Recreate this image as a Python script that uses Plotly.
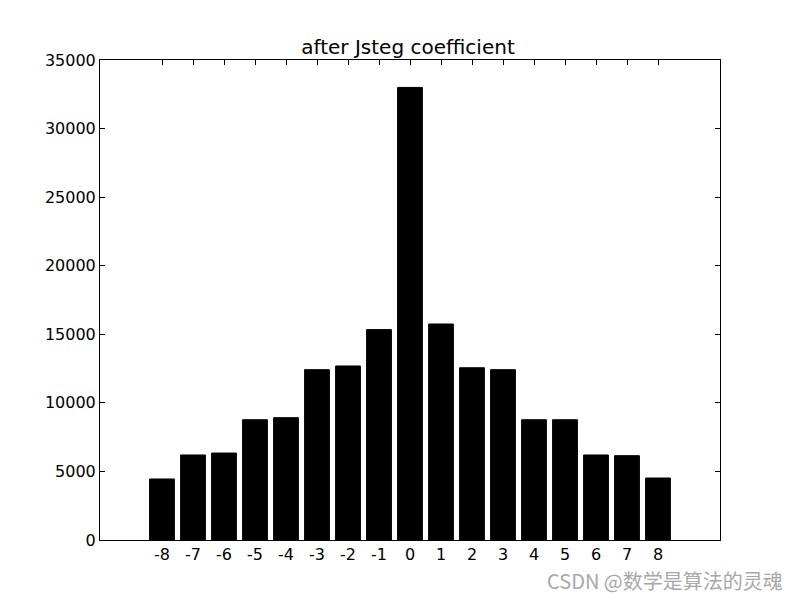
import plotly.graph_objects as go

coefficients = [-8, -7, -6, -5, -4, -3, -2, -1, 0, 1, 2, 3, 4, 5, 6, 7, 8]
counts = [4450, 6200, 6340, 8770, 8920, 12420, 12690, 15340, 33000,
          15750, 12560, 12420, 8770, 8770, 6200, 6150, 4520]
y_ticks = [0, 5000, 10000, 15000, 20000, 25000, 30000, 35000]

fig = go.Figure()
fig.add_trace(go.Bar(x=coefficients, y=counts, width=0.8,
                     marker=dict(color="black", line=dict(color="black", width=1))))

axis_style = dict(showline=True, linecolor="black", linewidth=1, mirror="ticks",
                  ticks="inside", ticklen=5, tickcolor="black", showgrid=False,
                  zeroline=False, tickfont=dict(family="DejaVu Sans", size=16, color="black"))

fig.update_xaxes(range=[-10, 10], tickvals=coefficients,
                 ticktext=[str(c) for c in coefficients], **axis_style)
fig.update_yaxes(range=[0, 35000], tickvals=y_ticks,
                 ticktext=[str(v) for v in y_ticks], **axis_style)

# page adds 8px body margin, so shift everything up/left
fig.update_layout(
    width=800, height=600,
    margin=dict(l=92, r=88, t=52, b=68),
    plot_bgcolor="white", paper_bgcolor="white",
    title=dict(text="after Jsteg coefficient", x=0.5, xanchor="center",
               y=1 - 39 / 600, yanchor="middle",
               font=dict(family="DejaVu Sans", size=20, color="black")),
    showlegend=False,
)
fig.add_annotation(text="CSDN @数学是算法的灵魂", xref="paper", yref="paper",
                   x=1 + 65 / 620, y=-40 / 480, xanchor="right", yanchor="middle",
                   showarrow=False,
                   font=dict(family="Noto Sans CJK SC", size=20, color="#a8a8a8"))

fig.write_html("out.html")
